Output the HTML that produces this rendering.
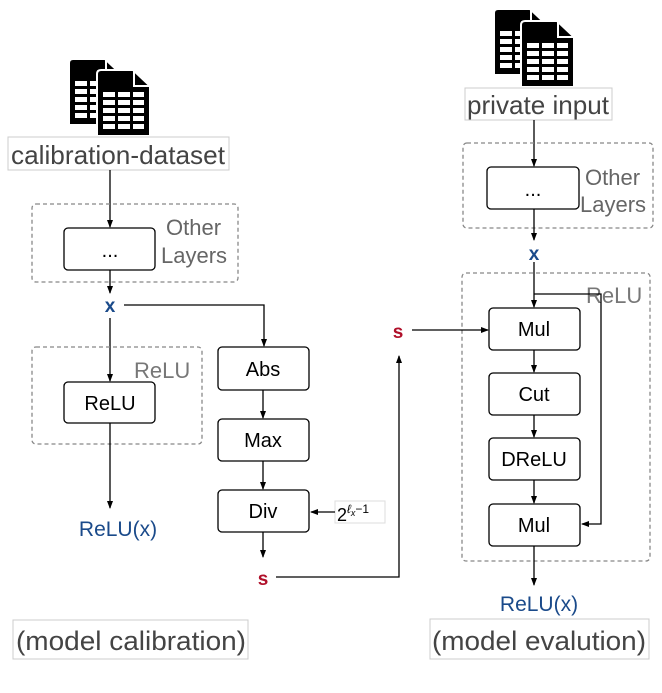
<!DOCTYPE html>
<html><head><meta charset="utf-8"><style>
html,body{margin:0;padding:0;background:#fff;width:662px;height:693px;overflow:hidden}
svg{display:block}
text{font-family:"Liberation Sans",sans-serif}
</style></head><body>
<svg width="662" height="693" viewBox="0 0 662 693" xmlns="http://www.w3.org/2000/svg">
<defs>
<marker id="a" markerWidth="8" markerHeight="8" refX="7" refY="4" orient="auto" markerUnits="userSpaceOnUse">
<path d="M0,1 L8,4 L0,7 z" fill="#000"/></marker>
<g id="doc">
<path d="M0,4 Q0,0 4,0 L36,0 L53,16 L53,66 L0,66 z" fill="#000" stroke="#fff" stroke-width="2"/>
<path d="M37,0 L37,16 L53,16" fill="none" stroke="#fff" stroke-width="2"/>
<g fill="#fff">
<rect x="6" y="22" width="12" height="5"/><rect x="21" y="22" width="12" height="5"/><rect x="36" y="22" width="11" height="5"/>
<rect x="6" y="30" width="12" height="5"/><rect x="21" y="30" width="12" height="5"/><rect x="36" y="30" width="11" height="5"/>
<rect x="6" y="38" width="12" height="5"/><rect x="21" y="38" width="12" height="5"/><rect x="36" y="38" width="11" height="5"/>
<rect x="6" y="46" width="12" height="5"/><rect x="21" y="46" width="12" height="5"/><rect x="36" y="46" width="11" height="5"/>
<rect x="6" y="54" width="12" height="5"/><rect x="21" y="54" width="12" height="5"/><rect x="36" y="54" width="11" height="5"/>
</g></g>
</defs>

<!-- LEFT -->
<use href="#doc" x="69" y="59"/>
<use href="#doc" x="97" y="70"/>
<rect x="8" y="137" width="221" height="33" fill="#fff" stroke="#ccc"/>
<text x="118" y="164" font-size="26" fill="#444" text-anchor="middle" textLength="214" lengthAdjust="spacingAndGlyphs">calibration-dataset</text>
<line x1="110" y1="170" x2="110" y2="227" stroke="#000" stroke-width="1.3" marker-end="url(#a)"/>
<rect x="32" y="204" width="206" height="78" rx="4" fill="none" stroke="#888" stroke-width="1.3" stroke-dasharray="4,3"/>
<rect x="64" y="228" width="91" height="42" rx="4" fill="#fff" stroke="#000" stroke-width="1.3"/>
<text x="110" y="257" font-size="20" text-anchor="middle">...</text>
<text x="166" y="235" font-size="22" fill="#666">Other</text>
<text x="161" y="263" font-size="22" fill="#666">Layers</text>
<line x1="110" y1="270" x2="110" y2="293" stroke="#000" stroke-width="1.3" marker-end="url(#a)"/>
<text x="110" y="312" font-size="19" fill="#1a4a8a" text-anchor="middle" font-weight="bold">x</text>
<polyline points="124,305 264,305 264,346" fill="none" stroke="#000" stroke-width="1.3" marker-end="url(#a)"/>
<line x1="110" y1="318" x2="110" y2="381" stroke="#000" stroke-width="1.3" marker-end="url(#a)"/>
<rect x="32" y="347" width="170" height="97" rx="4" fill="none" stroke="#888" stroke-width="1.3" stroke-dasharray="4,3"/>
<text x="134" y="378" font-size="22" fill="#777">ReLU</text>
<rect x="64" y="382" width="91" height="41" rx="4" fill="#fff" stroke="#000" stroke-width="1.3"/>
<text x="110" y="410" font-size="20" text-anchor="middle">ReLU</text>
<line x1="110" y1="423" x2="110" y2="508" stroke="#000" stroke-width="1.3" marker-end="url(#a)"/>
<text x="118" y="536" font-size="21" fill="#1a4a8a" text-anchor="middle">ReLU(x)</text>

<rect x="218" y="347" width="91" height="43" rx="4" fill="#fff" stroke="#000" stroke-width="1.3"/>
<text x="263" y="376" font-size="20" text-anchor="middle">Abs</text>
<line x1="263" y1="390" x2="263" y2="418" stroke="#000" stroke-width="1.3" marker-end="url(#a)"/>
<rect x="218" y="419" width="91" height="42" rx="4" fill="#fff" stroke="#000" stroke-width="1.3"/>
<text x="263" y="447" font-size="20" text-anchor="middle">Max</text>
<line x1="263" y1="461" x2="263" y2="489" stroke="#000" stroke-width="1.3" marker-end="url(#a)"/>
<rect x="218" y="490" width="91" height="42" rx="4" fill="#fff" stroke="#000" stroke-width="1.3"/>
<text x="263" y="518" font-size="20" text-anchor="middle">Div</text>
<rect x="335" y="501" width="50" height="22" fill="#fff" stroke="#ddd"/>
<text x="337" y="521" font-size="18" font-family="Liberation Serif">2<tspan font-size="12" dy="-8" font-style="italic">ℓ</tspan><tspan font-size="9" dy="3" font-style="italic">x</tspan><tspan font-size="12" dy="-3">−1</tspan></text>
<line x1="335" y1="512" x2="311" y2="512" stroke="#000" stroke-width="1.3" marker-end="url(#a)"/>
<line x1="263" y1="532" x2="263" y2="557" stroke="#000" stroke-width="1.3" marker-end="url(#a)"/>
<text x="263" y="585" font-size="19" fill="#b0102a" text-anchor="middle" font-weight="bold">s</text>
<polyline points="276,577 399,577 399,356" fill="none" stroke="#000" stroke-width="1.3" marker-end="url(#a)"/>
<rect x="13" y="620" width="235" height="39" fill="#fff" stroke="#ccc"/>
<text x="131" y="650" font-size="27" fill="#444" text-anchor="middle" textLength="230" lengthAdjust="spacingAndGlyphs">(model calibration)</text>

<!-- RIGHT -->
<use href="#doc" x="494" y="9"/>
<use href="#doc" x="521" y="21"/>
<rect x="465" y="88" width="147" height="32" fill="#fff" stroke="#ccc"/>
<text x="538" y="114" font-size="26" fill="#444" text-anchor="middle" textLength="142" lengthAdjust="spacingAndGlyphs">private input</text>
<line x1="534" y1="120" x2="534" y2="166" stroke="#000" stroke-width="1.3" marker-end="url(#a)"/>
<rect x="463" y="143" width="190" height="85" rx="4" fill="none" stroke="#888" stroke-width="1.3" stroke-dasharray="4,3"/>
<rect x="487" y="167" width="92" height="42" rx="4" fill="#fff" stroke="#000" stroke-width="1.3"/>
<text x="533" y="196" font-size="20" text-anchor="middle">...</text>
<text x="585" y="185" font-size="22" fill="#666">Other</text>
<text x="580" y="212" font-size="22" fill="#666">Layers</text>
<line x1="534" y1="209" x2="534" y2="240" stroke="#000" stroke-width="1.3" marker-end="url(#a)"/>
<text x="534" y="260" font-size="19" fill="#1a4a8a" text-anchor="middle" font-weight="bold">x</text>
<rect x="462" y="273" width="188" height="288" rx="4" fill="none" stroke="#888" stroke-width="1.3" stroke-dasharray="4,3"/>
<line x1="534" y1="262" x2="534" y2="307" stroke="#000" stroke-width="1.3" marker-end="url(#a)"/>
<text x="586" y="303" font-size="22" fill="#777">ReLU</text>
<polyline points="534,294 601,294 601,524 582,524" fill="none" stroke="#000" stroke-width="1.3" marker-end="url(#a)"/>
<text x="398" y="338" font-size="19" fill="#b0102a" text-anchor="middle" font-weight="bold">s</text>
<line x1="412" y1="330" x2="488" y2="330" stroke="#000" stroke-width="1.3" marker-end="url(#a)"/>
<rect x="489" y="308" width="91" height="42" rx="4" fill="#fff" stroke="#000" stroke-width="1.3"/>
<text x="534" y="336" font-size="20" text-anchor="middle">Mul</text>
<line x1="534" y1="350" x2="534" y2="372" stroke="#000" stroke-width="1.3" marker-end="url(#a)"/>
<rect x="489" y="373" width="91" height="42" rx="4" fill="#fff" stroke="#000" stroke-width="1.3"/>
<text x="534" y="401" font-size="20" text-anchor="middle">Cut</text>
<line x1="534" y1="415" x2="534" y2="437" stroke="#000" stroke-width="1.3" marker-end="url(#a)"/>
<rect x="489" y="438" width="91" height="42" rx="4" fill="#fff" stroke="#000" stroke-width="1.3"/>
<text x="534" y="466" font-size="20" text-anchor="middle">DReLU</text>
<line x1="534" y1="480" x2="534" y2="503" stroke="#000" stroke-width="1.3" marker-end="url(#a)"/>
<rect x="489" y="504" width="91" height="42" rx="4" fill="#fff" stroke="#000" stroke-width="1.3"/>
<text x="534" y="532" font-size="20" text-anchor="middle">Mul</text>
<line x1="534" y1="546" x2="534" y2="585" stroke="#000" stroke-width="1.3" marker-end="url(#a)"/>
<text x="539" y="611" font-size="21" fill="#1a4a8a" text-anchor="middle">ReLU(x)</text>
<rect x="430" y="619" width="219" height="40" fill="#fff" stroke="#ccc"/>
<text x="539" y="650" font-size="27" fill="#444" text-anchor="middle" textLength="214" lengthAdjust="spacingAndGlyphs">(model evalution)</text>
</svg>
</body></html>
